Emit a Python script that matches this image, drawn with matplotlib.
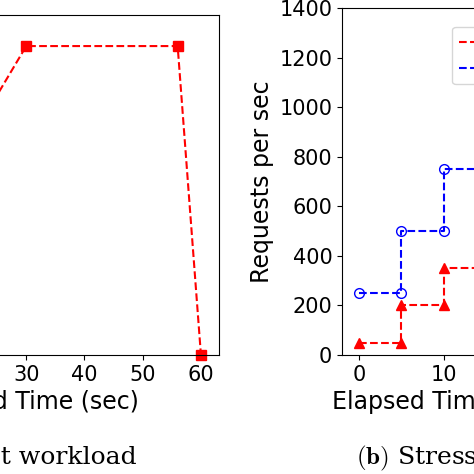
import matplotlib
matplotlib.use("Agg")
import matplotlib.pyplot as plt

load_t = [0, 10, 20, 30, 56, 60]
load_v = [0, 350, 683, 1000, 1000, 0]

stress_t = [0, 5, 5, 10, 10, 15, 15, 20]
stress_low = [50, 50, 200, 200, 350, 350, 500, 500]
stress_high = [250, 250, 500, 500, 750, 750, 1000, 1000]

plt.rcParams['mathtext.fontset'] = 'cm'
fig = plt.figure(figsize=(4.74, 4.74), dpi=100)

ax1 = fig.add_axes([-0.350, 0.251, 0.812, 0.717])
ax1.plot(load_t, load_v, 'r--s', markersize=7, clip_on=False)
ax1.set_xlim(-3, 63.1)
ax1.set_ylim(0, 1100)
ax1.set_xticks([0, 10, 20, 30, 40, 50, 60])
ax1.set_yticks([])
ax1.tick_params(labelsize=15)
ax1.set_xlabel("Elapsed Time (sec)", fontsize=17)

ax2 = fig.add_axes([0.7215, 0.251, 0.43, 0.732])
ax2.plot(stress_t, stress_low, 'r--^', markersize=7, label='Stress low')
ax2.plot(stress_t, stress_high, 'b--o', markersize=7, markerfacecolor='none', label='Stress high')
ax2.set_xlim(-2, 22)
ax2.set_ylim(0, 1400)
ax2.set_xticks([0, 10, 20])
ax2.set_yticks(range(0, 1401, 200))
ax2.tick_params(labelsize=15)
ax2.set_xlabel("Elapsed Time (sec)", fontsize=17)
ax2.set_ylabel("Requests per sec", fontsize=17)
ax2.legend(loc='upper left', bbox_to_anchor=(0.5, 0.97), fontsize=12, handlelength=2.5)

fig.text(0.289, 0.02, r"(a) Load test workload", ha='right', fontsize=18, family='DejaVu Serif')
fig.text(0.75, 0.02, r"$\mathbf{(b)}$ Stress test workload", ha='left', fontsize=18, family='DejaVu Serif')

fig.savefig("out.png", dpi=100)
